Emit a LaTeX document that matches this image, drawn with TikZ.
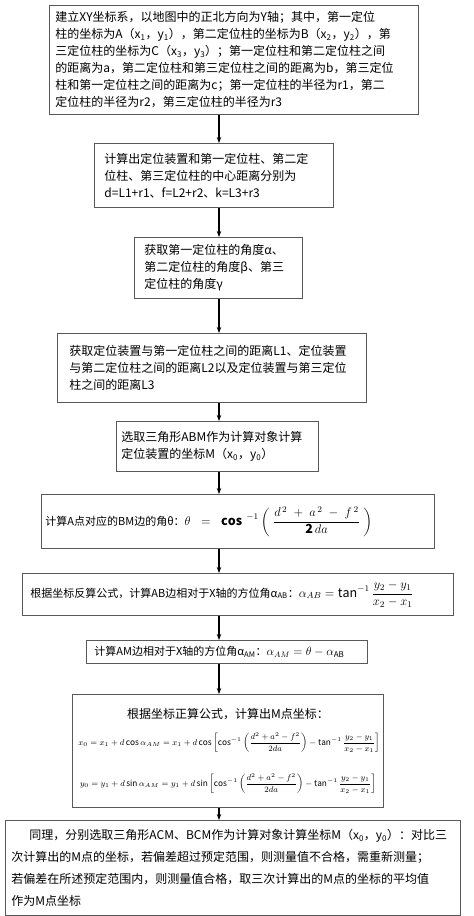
\RequirePackage{fix-cm}
\documentclass[tikz,border=0pt]{standalone}
\usepackage{amsmath}
\usepackage{fontspec}
\setmainfont{Noto Sans CJK SC}
\usetikzlibrary{arrows.meta}

\begin{document}
\begin{tikzpicture}[x=1pt, y=-1pt,
    box/.style={draw=black!65, line width=0.9pt, anchor=north west,
        inner xsep=6pt, inner ysep=0pt, align=left,
        font=\fontsize{12}{17}\selectfont},
    flow/.style={line width=1.4pt, -{Stealth[length=6pt,width=4.5pt]}}]
    \useasboundingbox (0,0) rectangle (474,916);
    \coordinate (ax) at (219,0);

    % Draw steps
    \node[box, text width=357pt, minimum height=109pt] (coord) at (49,5)
        {建立XY坐标系，以地图中的正北方向为Y轴；其中，第一定位\\
         柱的坐标为A（x\textsubscript{1}，y\textsubscript{1}），第二定位柱的坐标为B（x\textsubscript{2}，y\textsubscript{2}），第\\
         三定位柱的坐标为C（x\textsubscript{3}，y\textsubscript{3}）；第一定位柱和第二定位柱之间\\
         的距离为a，第二定位柱和第三定位柱之间的距离为b，第三定位\\
         柱和第一定位柱之间的距离为c；第一定位柱的半径为r1，第二\\
         定位柱的半径为r2，第三定位柱的半径为r3};

    \node[box, inner xsep=10pt, text width=219pt, minimum height=64pt] (dist) at (94,143)
        {计算出定位装置和第一定位柱、第二定\\
         位柱、第三定位柱的中心距离分别为\\
         d=L1+r1、f=L2+r2、k=L3+r3};

    \node[box, inner xsep=10pt, text width=148pt, minimum height=61pt] (angle) at (134,237)
        {获取第一定位柱的角度α、\\
         第二定位柱的角度β、第三\\
         定位柱的角度γ};

    \node[box, inner xsep=12pt, text width=285pt, minimum height=69pt] (meas) at (57,333)
        {获取定位装置与第一定位柱之间的距离L1、定位装置\\
         与第二定位柱之间的距离L2以及定位装置与第三定位\\
         柱之间的距离L3};

    \node[box, inner xsep=5pt, text width=192pt, minimum height=50pt] (tri) at (116,421)
        {选取三角形ABM作为计算对象计算\\
         定位装置的坐标M（x\textsubscript{0}，y\textsubscript{0}）};

    \node[box, inner xsep=4pt, text width=385pt, minimum height=54pt,
        font=\fontsize{11}{14}\selectfont] (theta) at (41,494)
        {计算A点对应的BM边的角θ：{\fontsize{12.5}{14}\selectfont$\displaystyle \theta \;\;=\;\; \mathbf{cos}^{\;\,-1}
         \left(\;\frac{d^{\,2} \;+\; a^{\,2} \;-\; f^{\,2}}{\mathbf{2}\,da}\;\right)$}};

    \node[box, inner xsep=8pt, text width=415pt, minimum height=42pt,
        font=\fontsize{11}{14}\selectfont] (azab) at (22,573)
        {根据坐标反算公式，计算AB边相对于X轴的方位角α\textsubscript{AB}：{\fontsize{12.5}{14}\selectfont$\displaystyle
         \alpha_{AB} = \tan^{-1}\frac{y_2-y_1}{x_2-x_1}$}};

    \node[box, inner xsep=8pt, text width=265pt, minimum height=23pt,
        font=\fontsize{11}{14}\selectfont] (azam) at (86,640)
        {计算AM边相对于X轴的方位角α\textsubscript{AM}：{\fontsize{12}{14}\selectfont$\alpha_{AM} = \theta - \alpha_{\mathrm{AB}}$}};

    \node[box, align=center, text width=299pt, minimum height=113pt,
        font=\fontsize{8.3}{10}\selectfont] (fwd) at (72,694)
        {{\fontsize{12}{17}\selectfont 根据坐标正算公式，计算出M点坐标：}\\[12pt]
         \mbox{$\displaystyle x_0 = x_1 + d\cos\alpha_{AM} = x_1 + d\cos\left[\cos^{-1}
          \left(\frac{d^2+a^2-f^2}{2da}\right) - \tan^{-1}\frac{y_2-y_1}{x_2-x_1}\right]$}\\[20pt]
         \mbox{$\displaystyle y_0 = y_1 + d\sin\alpha_{AM} = y_1 + d\sin\left[\cos^{-1}
          \left(\frac{d^2+a^2-f^2}{2da}\right) - \tan^{-1}\frac{y_2-y_1}{x_2-x_1}\right]$}\\[4pt]};

    \node[box, inner xsep=6pt, text width=443pt, minimum height=95pt,
        font=\fontsize{12}{22}\selectfont] (avg) at (5,820)
        {\hspace*{1.5em}同理，分别选取三角形ACM、BCM作为计算对象计算坐标M（x\textsubscript{0}，y\textsubscript{0}）：对比三\\
         次计算出的M点的坐标，若偏差超过预定范围，则测量值不合格，需重新测量；\\
         若偏差在所述预定范围内，则测量值合格，取三次计算出的M点的坐标的平均值\\
         作为M点坐标};

    % Draw arrows
    \draw[flow] (coord.south -| ax) -- (dist.north -| ax);
    \draw[flow] (dist.south -| ax) -- (angle.north -| ax);
    \draw[flow] (angle.south -| ax) -- (meas.north -| ax);
    \draw[flow] (meas.south -| ax) -- (tri.north -| ax);
    \draw[flow] (tri.south -| ax) -- (theta.north -| ax);
    \draw[flow] (theta.south -| ax) -- (azab.north -| ax);
    \draw[flow] (azab.south -| ax) -- (azam.north -| ax);
    \draw[flow] (azam.south -| ax) -- (fwd.north -| ax);
    \draw[flow] (fwd.south -| ax) -- (avg.north -| ax);

\end{tikzpicture}
\end{document}
